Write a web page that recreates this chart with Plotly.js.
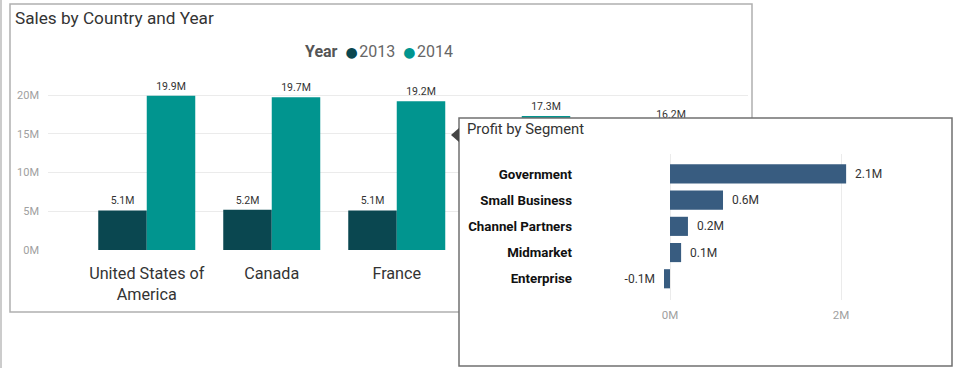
<!DOCTYPE html>
<html>
<head>
<meta charset="utf-8">
<script src="https://cdn.plot.ly/plotly-3.0.1.min.js"></script>
<style>
  html, body { margin: 0; padding: 0; background: #ffffff; }
  #wrap { position: relative; width: 967px; height: 368px; overflow: hidden; }
  #sales, #profit { position: absolute; left: 0; top: 0; width: 967px; height: 368px; }
</style>
</head>
<body>
<div id="wrap">
  <div id="sales"></div>
  <div id="profit"></div>
</div>
<script>
// ---- data: Sales by Country and Year (millions) ----
var countries = ["United States of<br>America", "Canada", "France", "Germany", "Mexico"];
var sales2013 = [5.1, 5.2, 5.1, 6.2, 4.7];
var sales2014 = [19.9, 19.7, 19.2, 17.3, 16.2];
var yearNames = ["2013", "2014"];
var yearColors = ["#0a4750", "#01958f"];
// how many countries are not covered by the "Profit by Segment" tooltip panel
var visibleCountries = 3;

// ---- data: Profit by Segment (millions) ----
var segments = ["Government", "Small Business", "Channel Partners", "Midmarket", "Enterprise"];
var profit = [2.06, 0.62, 0.21, 0.13, -0.07];

var W = 967, H = 368;
function fx(px) { return px / W; }
function fy(py) { return 1 - py / H; }
function fmtM(v) { return v.toFixed(1) + "M"; }

var FONT = 'Roboto, "Liberation Sans", sans-serif';
var cfg = { staticPlot: true, displayModeBar: false };

// ---------- left visual ----------
var salesTraces = [
  {
    type: "bar", name: yearNames[0], x: countries, y: sales2013,
    marker: { color: yearColors[0] },
    // labels of bars hidden behind the tooltip panel are not drawn
    text: sales2013.map(function (v, i) { return i < visibleCountries ? fmtM(v) : ""; }),
    textposition: "outside",
    textfont: { size: 10.5, color: "#333333", family: FONT },
    cliponaxis: false, showlegend: false
  },
  {
    type: "bar", name: yearNames[1], x: countries, y: sales2014,
    marker: { color: yearColors[1] },
    text: sales2014.map(fmtM), textposition: "outside",
    textfont: { size: 10.5, color: "#333333", family: FONT },
    cliponaxis: false, showlegend: false
  }
];

var legendText = "<span style='color:#555555'><b>Year</b></span>\u00a0\u00a0" +
  yearNames.map(function (n, i) {
    return "<span style='color:" + yearColors[i] + ";font-family:DejaVu Sans;font-size:14px'>\u25CF</span>\u200a" + n;
  }).join("\u00a0\u00a0");

var salesLayout = {
  width: W, height: H,
  margin: { l: 0, r: 0, t: 0, b: 0, pad: 0 },
  paper_bgcolor: "#ffffff", plot_bgcolor: "#ffffff",
  font: { family: FONT, color: "#333333" },
  title: {
    text: "Sales by Country and Year",
    x: fx(15), xanchor: "left", xref: "paper",
    y: fy(18), yanchor: "middle", yref: "paper",
    font: { size: 17.2, color: "#333333", family: FONT }
  },
  barmode: "group", bargap: 0.224, bargroupgap: 0,
  showlegend: false,
  xaxis: {
    domain: [fx(48), fx(748)], type: "category", range: [-0.79, 4.81],
    tickmode: "array", tickvals: countries.slice(0, visibleCountries),
    showgrid: false, zeroline: false, showline: false, ticks: "",
    tickfont: { size: 16.2, color: "#333333", family: FONT },
    ticklabelstandoff: 12, fixedrange: true
  },
  yaxis: {
    domain: [fy(250), fy(79.5)], range: [0, 22], tickmode: "linear", tick0: 0, dtick: 5,
    ticksuffix: "M", showgrid: true, gridcolor: "#ebebeb", gridwidth: 1,
    zeroline: false, showline: false, ticks: "",
    tickfont: { size: 11, color: "#a0a0a0", family: FONT },
    ticklabelstandoff: 8, fixedrange: true
  },
  annotations: [
    { xref: "paper", yref: "paper", x: fx(379), y: fy(51), xanchor: "center", yanchor: "middle",
      text: legendText, showarrow: false,
      font: { size: 16, color: "#666666", family: FONT } }
  ],
  shapes: [
    { type: "line", xref: "paper", yref: "paper", x0: fx(1), x1: fx(1), y0: 0, y1: 1,
      line: { color: "#cccccc", width: 2 }, layer: "above" },
    { type: "rect", xref: "paper", yref: "paper", x0: fx(10), x1: fx(752), y0: fy(312), y1: fy(4),
      line: { color: "#b0b0b0", width: 1.5 }, fillcolor: "rgba(0,0,0,0)", layer: "above" }
  ]
};

Plotly.newPlot("sales", salesTraces, salesLayout, cfg);

// ---------- overlay visual ----------
var profitTraces = [
  {
    type: "bar", orientation: "h", y: segments, x: profit,
    marker: { color: "#385c80" },
    text: profit.map(function (v) {
      return v < 0 ? fmtM(v) + "\u00a0\u00a0" : "\u00a0\u00a0" + fmtM(v);
    }),
    textposition: "outside",
    textfont: { size: 12, color: "#333333", family: FONT },
    cliponaxis: false, showlegend: false
  }
];

var profitLayout = {
  width: W, height: H,
  margin: { l: 0, r: 0, t: 0, b: 0, pad: 0 },
  paper_bgcolor: "rgba(0,0,0,0)", plot_bgcolor: "rgba(0,0,0,0)",
  font: { family: FONT, color: "#333333" },
  title: {
    text: "Profit by Segment",
    x: fx(467), xanchor: "left", xref: "paper",
    y: fy(129), yanchor: "middle", yref: "paper",
    font: { size: 14.8, color: "#333333", family: FONT }
  },
  bargap: 0.27,
  showlegend: false,
  xaxis: {
    domain: [fx(580), fx(940)], range: [(580 - 670) / 85.5, (940 - 670) / 85.5],
    tickmode: "linear", tick0: 0, dtick: 2, ticksuffix: "M",
    showgrid: true, gridcolor: "#ebebeb", zeroline: false, showline: false, ticks: "",
    tickfont: { size: 11.5, color: "#a0a0a0", family: FONT },
    ticklabelstandoff: 6, fixedrange: true
  },
  yaxis: {
    domain: [fy(300), fy(154)], type: "category", range: [4.81, -0.76],
    showgrid: false, zeroline: false, showline: false, ticks: "",
    tickfont: { size: 13.3, color: "#111111", family: FONT, weight: "bold" },
    ticklabelstandoff: 7, fixedrange: true
  },
  shapes: [
    { type: "rect", xref: "paper", yref: "paper", x0: fx(459), x1: fx(952), y0: fy(366), y1: fy(118),
      line: { color: "#707070", width: 1.5 }, fillcolor: "#ffffff", layer: "below" },
    { type: "path", xref: "paper", yref: "paper",
      path: "M " + fx(459) + "," + fy(128) + " L " + fx(451) + "," + fy(135) + " L " + fx(459) + "," + fy(142) + " Z",
      line: { color: "#444444", width: 0 }, fillcolor: "#444444", layer: "below" }
  ]
};

Plotly.newPlot("profit", profitTraces, profitLayout, cfg);
</script>
</body>
</html>
